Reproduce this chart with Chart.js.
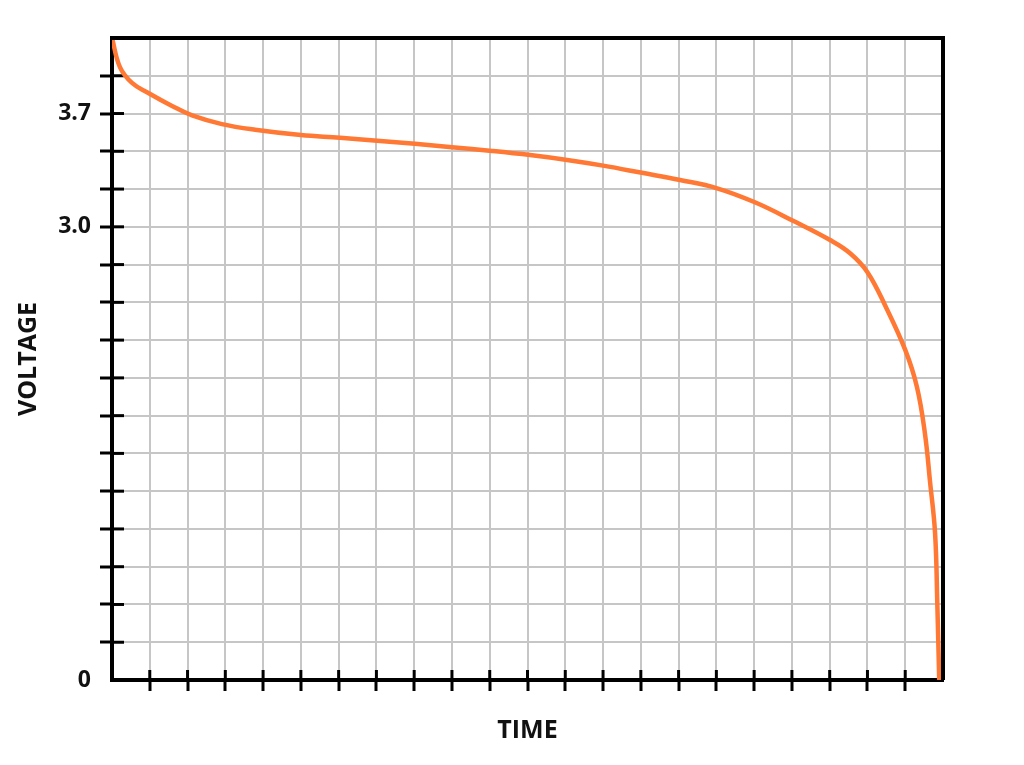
<!DOCTYPE html>
<html>
    <head>
        <title>Voltage over time</title>
        <script src="https://cdn.jsdelivr.net/npm/chart.js@4.4.1/dist/chart.umd.min.js"></script>
        <style>
            body { margin: 0; background: #ffffff; }
            #wrap { width: 1024px; height: 765px; }
        </style>
    </head>
    <body>
        <div id="wrap"><canvas id="dischargeChart"></canvas></div>
        <script>
            // discharge curve in grid units
            const timeValues = [0, 0.21, 0.53, 0.95, 1.59, 2.12, 2.91, 3.79, 5.0, 6.04, 7.02, 8.02, 9.0, 10.06, 11.07, 12.05, 13.0, 14.03, 15.04, 16.02, 17.02, 18.03, 19.01, 19.54, 20.0, 20.5, 21.0, 21.31, 21.52, 21.66, 21.79, 21.85, 21.9];
            const voltageValues = [17, 16.23, 15.81, 15.55, 15.2, 14.95, 14.72, 14.57, 14.43, 14.36, 14.28, 14.2, 14.11, 14.01, 13.9, 13.77, 13.62, 13.43, 13.24, 13.02, 12.65, 12.16, 11.65, 11.3, 10.8, 9.85, 8.74, 7.76, 6.54, 5.22, 3.89, 2.0, 0];

            const yTickValues = [0, 12, 15];
            const yTickLabels = ["0", "3.0", "3.7"];

            const xMax = 22;
            const yMax = 17;
            const tickFont = { family: "'Open Sans', sans-serif", size: 23, weight: "bold" };
            const titleFont = { family: "'Open Sans', sans-serif", size: 25, weight: "bold" };

            // frame on top/right and the inner half of every tick mark
            const framePlugin = {
                id: "frame",
                beforeDatasetsDraw(chart) {
                    const { ctx, chartArea, scales } = chart;
                    ctx.save();
                    ctx.strokeStyle = "#000";
                    ctx.lineWidth = 3;
                    for (let v = 1; v < yMax; v++) {
                        const y = scales.y.getPixelForValue(v);
                        ctx.beginPath();
                        ctx.moveTo(chartArea.left, y);
                        ctx.lineTo(chartArea.left + 12, y);
                        ctx.stroke();
                    }
                    for (let v = 1; v < xMax; v++) {
                        const x = scales.x.getPixelForValue(v);
                        ctx.beginPath();
                        ctx.moveTo(x, chartArea.bottom);
                        ctx.lineTo(x, chartArea.bottom - 10);
                        ctx.stroke();
                    }
                    ctx.restore();
                },
                afterDraw(chart) {
                    const { ctx, chartArea } = chart;
                    ctx.save();
                    ctx.strokeStyle = "#000";
                    ctx.lineWidth = 4;
                    ctx.beginPath();
                    ctx.moveTo(chartArea.left, chartArea.top);
                    ctx.lineTo(chartArea.right, chartArea.top);
                    ctx.lineTo(chartArea.right, chartArea.bottom);
                    ctx.stroke();
                    ctx.restore();
                }
            };

            const inner = (v, max) => v > 0 && v < max;

            new Chart(document.getElementById("dischargeChart"), {
                type: "line",
                data: {
                    datasets: [{
                        data: timeValues.map((t, i) => ({ x: t, y: voltageValues[i] })),
                        borderColor: "#ff7834",
                        borderWidth: 4.5,
                        pointRadius: 0,
                        tension: 0.4,
                        fill: false,
                    }]
                },
                options: {
                    responsive: true,
                    maintainAspectRatio: false,
                    animation: false,
                    layout: { padding: { top: 38, right: 81, left: 0, bottom: 0 } },
                    plugins: {
                        legend: { display: false },
                        tooltip: { enabled: false },
                    },
                    scales: {
                        x: {
                            type: "linear",
                            min: 0,
                            max: xMax,
                            afterFit: s => { s.height = 85; },
                            ticks: {
                                stepSize: 1,
                                autoSkip: false,
                                callback: () => "",
                            },
                            grid: {
                                color: ctx => inner(ctx.tick.value, xMax) ? "#c6c6c6" : "transparent",
                                lineWidth: 2,
                                tickColor: ctx => inner(ctx.tick.value, xMax) ? "#000" : "transparent",
                                tickWidth: 3,
                                tickLength: 11,
                            },
                            border: { color: "#000", width: 4 },
                            title: {
                                display: true,
                                text: "TIME",
                                color: "#111",
                                font: titleFont,
                                padding: { top: 0, bottom: 19 },
                            },
                        },
                        y: {
                            type: "linear",
                            min: 0,
                            max: yMax,
                            afterFit: s => { s.width = 112; },
                            ticks: {
                                stepSize: 1,
                                autoSkip: false,
                                color: "#111",
                                font: tickFont,
                                padding: 9,
                                callback: v => {
                                    const i = yTickValues.indexOf(v);
                                    return i >= 0 ? yTickLabels[i] : "";
                                },
                            },
                            grid: {
                                color: ctx => inner(ctx.tick.value, yMax) ? "#c6c6c6" : "transparent",
                                lineWidth: 2,
                                tickColor: ctx => inner(ctx.tick.value, yMax) ? "#000" : "transparent",
                                tickWidth: 3,
                                tickLength: 12,
                            },
                            border: { color: "#000", width: 4 },
                            title: {
                                display: true,
                                text: "VOLTAGE",
                                color: "#111",
                                font: titleFont,
                                padding: { top: 14, bottom: 0 },
                            },
                        },
                    },
                },
                plugins: [framePlugin],
            });
        </script>
    </body>
</html>
